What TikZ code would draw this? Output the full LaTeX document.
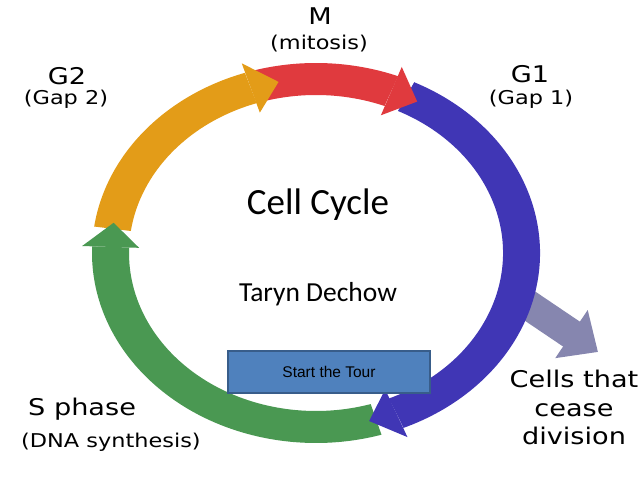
\documentclass[tikz,border=0pt]{standalone}
\usepackage{fontspec}
\newfontfamily\phasefont[FakeStretch=1.18]{DejaVu Sans}
\newfontfamily\titlefont{Carlito}
\newfontfamily\tourfont{Liberation Sans}
\usepackage{tikz}
\usetikzlibrary{arrows.meta}

\definecolor{mitred}{RGB}{224,58,62}
\definecolor{gapblue}{RGB}{64,54,181}
\definecolor{synthgreen}{RGB}{74,152,82}
\definecolor{gaporange}{RGB}{227,156,24}
\definecolor{ceasegray}{RGB}{134,134,175}
\definecolor{tourblue}{RGB}{79,129,189}
\definecolor{tourline}{RGB}{56,93,138}

\begin{document}
\begin{tikzpicture}[
    x=1pt, y=1pt,
    phasestyle/.style={font=\phasefont\fontsize{23}{28.5}\selectfont,
        inner sep=0pt, anchor=base},
    substyle/.style={font=\phasefont\fontsize{19}{22}\selectfont,
        inner sep=0pt, anchor=base},
    titlestyle/.style={font=\titlefont\fontsize{37}{44}\selectfont,
        inner sep=0pt, anchor=base},
    namestyle/.style={font=\titlefont\fontsize{27.5}{33}\selectfont,
        inner sep=0pt, anchor=base},
    tourstyle/.style={rectangle, draw=tourline, fill=tourblue, line width=1.2pt,
        minimum width=202, minimum height=42, inner sep=0pt,
        font=\tourfont\fontsize{15.5}{18}\selectfont},
    ceasestyle/.style={draw=ceasegray, line width=30,
        -{Triangle[length=32pt, width=56pt]}}
]
\useasboundingbox (0,0) rectangle (638,478);

% arrow out of the cycle
\coordinate (exitstart) at (518,180);
\coordinate (exittip) at (598,126);
\draw[ceasestyle] (exitstart) -- (exittip);

% ring: outer 224/190, inner 187/158, heads 234/200 and 177/148
\begin{scope}[shift={(316,225)}]
% bands
\fill[mitred] (106:224 and 190) arc[start angle=106, end angle=68.5, x radius=224, y radius=190]
    -- (68.5:187 and 158) arc[start angle=68.5, end angle=106, x radius=187, y radius=158] -- cycle;
\fill[gapblue] (64:224 and 190) arc[start angle=64, end angle=-67, x radius=224, y radius=190]
    -- (-67:187 and 158) arc[start angle=-67, end angle=64, x radius=187, y radius=158] -- cycle;
\fill[synthgreen] (-73:224 and 190) arc[start angle=-73, end angle=-182, x radius=224, y radius=190]
    -- (-182:187 and 158) arc[start angle=-182, end angle=-73, x radius=187, y radius=158] -- cycle;
\fill[gaporange] (172:224 and 190) arc[start angle=172, end angle=108.5, x radius=224, y radius=190]
    -- (108.5:187 and 158) arc[start angle=108.5, end angle=172, x radius=187, y radius=158] -- cycle;
% heads
\fill[mitred] (68.5:234 and 200) -- (60.5:205.5 and 174) -- (68.5:177 and 148) -- cycle;
\fill[gapblue] (-67:234 and 200) -- (-75:205.5 and 174) -- (-67:177 and 148) -- cycle;
\fill[synthgreen] (-182:234 and 200) -- (-190:205.5 and 174) -- (-182:177 and 148) -- cycle;
\fill[gaporange] (108.5:234 and 200) -- (100.5:205.5 and 174) -- (108.5:177 and 148) -- cycle;
\end{scope}

% phase labels
\node[phasestyle] (mname) at (320,453) {M};
\node[substyle] (msub) at (319,428) {(mitosis)};
\node[phasestyle] (gtwo) at (67,393) {G2};
\node[substyle] (gtwosub) at (66,373) {(Gap 2)};
\node[phasestyle] (gone) at (530,395) {G1};
\node[substyle] (gonesub) at (531,373) {(Gap 1)};
\node[phasestyle, anchor=base west] (sname) at (28,62) {S phase};
\node[substyle, anchor=base west] (ssub) at (21,30) {(DNA synthesis)};
\node[phasestyle, align=center] (cease) at (574,33) {Cells that\\cease\\division};

% centre
\node[titlestyle] (title) at (318,263) {Cell Cycle};
\node[namestyle] (author) at (318,176) {Taryn Dechow};
\node[tourstyle] (tour) at (329,106) {Start the Tour};

\end{tikzpicture}
\end{document}
